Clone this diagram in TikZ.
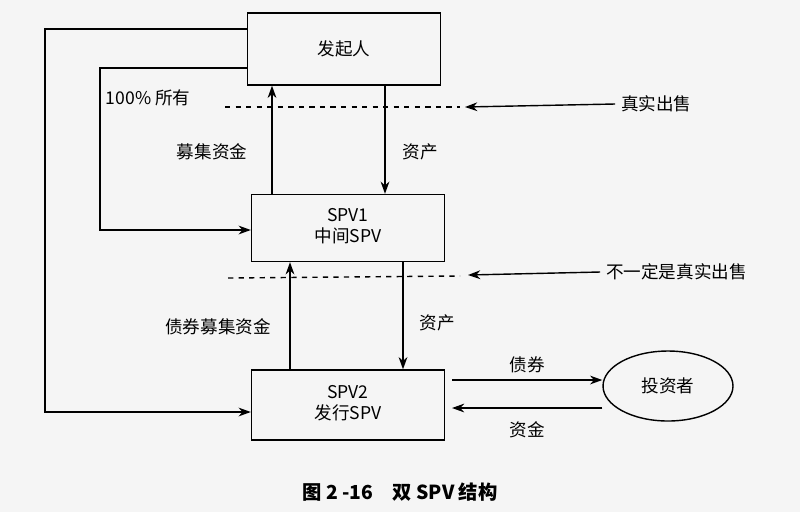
\documentclass[tikz,border=0pt]{standalone}
\usepackage{fontspec}
\newfontfamily\cjk{Noto Sans CJK SC}
\usetikzlibrary{arrows.meta,shapes.geometric}
\begin{document}
\begin{tikzpicture}[x=0.02cm,y=-0.02cm,font=\cjk\fontsize{10}{12}\selectfont,
  box/.style={draw,thick,minimum width=3.86cm,minimum height=1.38cm,inner sep=0pt},
  arr/.style={-{Stealth[length=7pt,width=5pt]},thick},
  dsh/.style={dashed,thick}]
\fill[gray!8] (0,0) rectangle (800,512);
\useasboundingbox (0,0) rectangle (800,512);
\node[box,minimum height=1.44cm] (fq) at (344,49) {发起人};
\node[box,minimum height=1.34cm] (s1) at (348,228) {\begin{tabular}{c}SPV1\\中间SPV\end{tabular}};
\node[box,minimum height=1.4cm] (s2) at (348,405) {\begin{tabular}{c}SPV2\\发行SPV\end{tabular}};
\node[draw,thick,ellipse,minimum width=2.6cm,minimum height=1.4cm] (inv) at (668,386) {投资者};
\draw[arr] (fq.west|-0,29) -- (45,29) -- (45,412) -- (s2.west|-0,412);
\draw[arr] (fq.west|-0,68) -- (100,68) -- (100,230) -- (s1.west|-0,230);
\draw[arr] (s1.north-|272,0) -- (fq.south-|272,0);
\draw[arr] (fq.south-|385,0) -- (s1.north-|385,0);
\draw[arr] (s2.north-|290,0) -- (s1.south-|290,0);
\draw[arr] (s1.south-|403,0) -- (s2.north-|403,0);
\coordinate (a1) at (452,380); \coordinate (a2) at (452,408);
\draw[arr] (a1) -- (inv.west|-a1);
\draw[arr] (inv.west|-a2) -- (a2);
\coordinate (d1a) at (225,107); \coordinate (d1b) at (460,107);
\coordinate (d2a) at (228,278); \coordinate (d2b) at (460,276);
\draw[dsh] (d1a) -- (d1b); \draw[dsh] (d2a) -- (d2b);
\node[anchor=west] (t1) at (615,104) {真实出售};
\node[anchor=west] (t2) at (600,272) {不一定是真实出售};
\coordinate (e1) at (465,107); \coordinate (e2) at (468,275);
\draw[arr] (t1.west) -- (e1);
\draw[arr] (t2.west) -- (e2);
\node (l1) at (148,98) {100\% 所有};
\node (l2) at (212,152) {募集资金};
\node (l3) at (420,152) {资产};
\node (l4) at (218,327) {债券募集资金};
\node (l5) at (437,323) {资产};
\node (l6) at (527,365) {债券};
\node (l7) at (527,430) {资金};
\node[font=\cjk\bfseries\fontsize{11}{13}\selectfont] (cap) at (400,492) {图 2 -16\quad 双 SPV 结构};
\end{tikzpicture}
\end{document}
